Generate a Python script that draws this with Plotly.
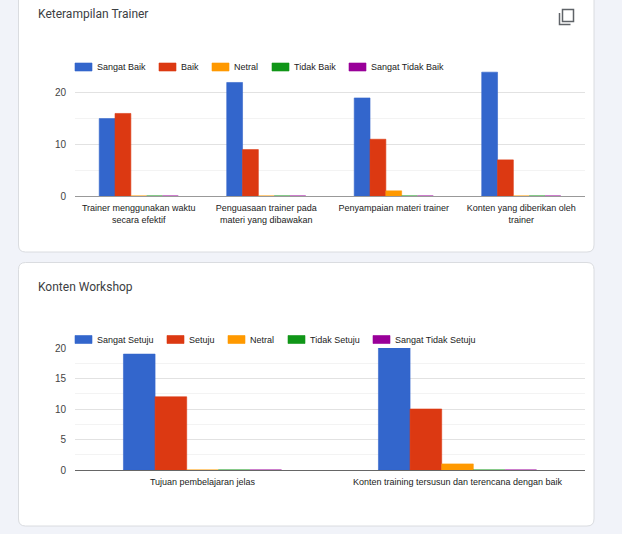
import plotly.graph_objects as go
from plotly.subplots import make_subplots

WIDTH = 622
HEIGHT = 534

# Keterampilan Trainer
kategori_trainer = [
    "Trainer menggunakan waktu<br>secara efektif",
    "Penguasaan trainer pada<br>materi yang dibawakan",
    "Penyampaian materi trainer",
    "Konten yang diberikan oleh<br>trainer",
]
seri_trainer = ["Sangat Baik", "Baik", "Netral", "Tidak Baik", "Sangat Tidak Baik"]
sangat_baik = [15, 22, 19, 24]
baik = [16, 9, 11, 7]
netral_trainer = [0, 0, 1, 0]
tidak_baik = [0, 0, 0, 0]
sangat_tidak_baik = [0, 0, 0, 0]

# Konten Workshop
kategori_konten = [
    "Tujuan pembelajaran jelas",
    "Konten training tersusun dan terencana dengan baik",
]
seri_konten = ["Sangat Setuju", "Setuju", "Netral", "Tidak Setuju", "Sangat Tidak Setuju"]
sangat_setuju = [19, 20]
setuju = [12, 10]
netral_konten = [0, 1]
tidak_setuju = [0, 0]
sangat_tidak_setuju = [0, 0]

warna = ["#3366cc", "#dc3912", "#ff9900", "#109618", "#990099"]
warna_garis = [
    "rgba(51,102,204,0.6)",
    "rgba(220,57,18,0.6)",
    "rgba(255,153,0,0.6)",
    "rgba(16,150,24,0.6)",
    "rgba(153,0,153,0.6)",
]

# legend is hand placed, the Forms swatches are wider than Plotly's
legend_x_trainer = [75, 159, 212, 272, 349]
legend_x_konten = [75, 167, 228, 288, 373]


def px_x(x):
    return x / WIDTH


def px_y(y):
    return 1 - y / HEIGHT


def kartu(x0, y0, x1, y1, r=7):
    path = (
        f"M{px_x(x0 + r)},{px_y(y0)} L{px_x(x1 - r)},{px_y(y0)} "
        f"Q{px_x(x1)},{px_y(y0)} {px_x(x1)},{px_y(y0 + r)} "
        f"L{px_x(x1)},{px_y(y1 - r)} Q{px_x(x1)},{px_y(y1)} {px_x(x1 - r)},{px_y(y1)} "
        f"L{px_x(x0 + r)},{px_y(y1)} Q{px_x(x0)},{px_y(y1)} {px_x(x0)},{px_y(y1 - r)} "
        f"L{px_x(x0)},{px_y(y0 + r)} Q{px_x(x0)},{px_y(y0)} {px_x(x0 + r)},{px_y(y0)} Z"
    )
    return dict(
        type="path", path=path, xref="paper", yref="paper", layer="below",
        fillcolor="white", line=dict(color="#dadce0", width=1),
    )


def legenda(nama, posisi, y):
    shapes, notes = [], []
    for teks, x, c, g in zip(nama, posisi, warna, warna_garis):
        shapes.append(dict(
            type="rect", xref="paper", yref="paper",
            x0=px_x(x), x1=px_x(x + 17), y0=px_y(y - 4), y1=px_y(y + 4),
            fillcolor=c, line=dict(color=g, width=1),
        ))
        notes.append(dict(
            text=teks, xref="paper", yref="paper", x=px_x(x + 19.5), y=px_y(y),
            xanchor="left", yanchor="middle", showarrow=False, bgcolor="white",
            font=dict(family="Liberation Sans", size=9, color="#222222"),
        ))
    return shapes, notes


def judul(teks, y):
    return dict(
        text=teks, xref="paper", yref="paper", x=px_x(35.5), y=px_y(y),
        xanchor="left", yanchor="middle", showarrow=False,
        font=dict(family="Roboto", size=12, color="#3c4043"),
    )


fig = make_subplots(rows=2, cols=1)

data_trainer = [sangat_baik, baik, netral_trainer, tidak_baik, sangat_tidak_baik]
for nama, nilai, c, g in zip(seri_trainer, data_trainer, warna, warna_garis):
    fig.add_trace(
        go.Bar(x=kategori_trainer, y=nilai, name=nama,
               marker=dict(color=c, line=dict(color=g, width=1))),
        row=1, col=1,
    )

data_konten = [sangat_setuju, setuju, netral_konten, tidak_setuju, sangat_tidak_setuju]
for nama, nilai, c, g in zip(seri_konten, data_konten, warna, warna_garis):
    fig.add_trace(
        go.Bar(x=kategori_konten, y=nilai, name=nama,
               marker=dict(color=c, line=dict(color=g, width=1))),
        row=2, col=1,
    )

font_sumbu = dict(family="Liberation Sans", size=9, color="#222222")

fig.update_xaxes(
    domain=[px_x(75), px_x(585)], tickfont=font_sumbu, showgrid=False, ticks="",
    showline=True, linewidth=1, ticklabelstandoff=3, tickangle=0, automargin=False,
)
fig.update_xaxes(linecolor="#999999", row=1, col=1)
fig.update_xaxes(linecolor="#666666", row=2, col=1)

fig.update_yaxes(
    tickfont=dict(family="Liberation Sans", size=10, color="#444444"),
    showgrid=True, gridcolor="#e2e2e2", gridwidth=1, zeroline=False, ticks="",
    ticklabelstandoff=8, automargin=False,
)
fig.update_yaxes(
    domain=[px_y(196), px_y(67)], range=[0, 25], dtick=10,
    minor=dict(dtick=5, showgrid=True, gridcolor="#f3f3f3", gridwidth=1),
    row=1, col=1,
)
fig.update_yaxes(
    domain=[px_y(470), px_y(348)], range=[0, 20], dtick=5,
    minor=dict(dtick=2.5, showgrid=True, gridcolor="#f3f3f3", gridwidth=1),
    row=2, col=1,
)

shapes = [kartu(18.5, -10, 594, 252), kartu(18.5, 262.5, 594, 526)]
annotations = [judul("Keterampilan Trainer", 14), judul("Konten Workshop", 287)]

s, a = legenda(seri_trainer, legend_x_trainer, 67)
shapes += s
annotations += a
s, a = legenda(seri_konten, legend_x_konten, 339.5)
shapes += s
annotations += a

# copy icon in the first card
shapes.append(dict(
    type="rect", xref="paper", yref="paper",
    x0=px_x(562.5), x1=px_x(573.5), y0=px_y(9.5), y1=px_y(21.5),
    fillcolor="rgba(0,0,0,0)", line=dict(color="#5f6368", width=1.5),
))
shapes.append(dict(
    type="path", xref="paper", yref="paper",
    path=(f"M{px_x(559.5)},{px_y(13)} L{px_x(559.5)},{px_y(24.5)} "
          f"L{px_x(570.5)},{px_y(24.5)}"),
    line=dict(color="#5f6368", width=1.5),
))

fig.update_layout(
    width=WIDTH,
    height=HEIGHT,
    margin=dict(l=0, r=0, t=0, b=0),
    paper_bgcolor="#f1f3f9",
    plot_bgcolor="rgba(0,0,0,0)",
    barmode="group",
    bargap=0.38,
    showlegend=False,
    shapes=shapes,
    annotations=annotations,
)

fig.write_html(
    "out.html",
    config=dict(displayModeBar=False),
    post_script="document.body.style.margin='0';document.body.style.overflow='hidden';",
)
